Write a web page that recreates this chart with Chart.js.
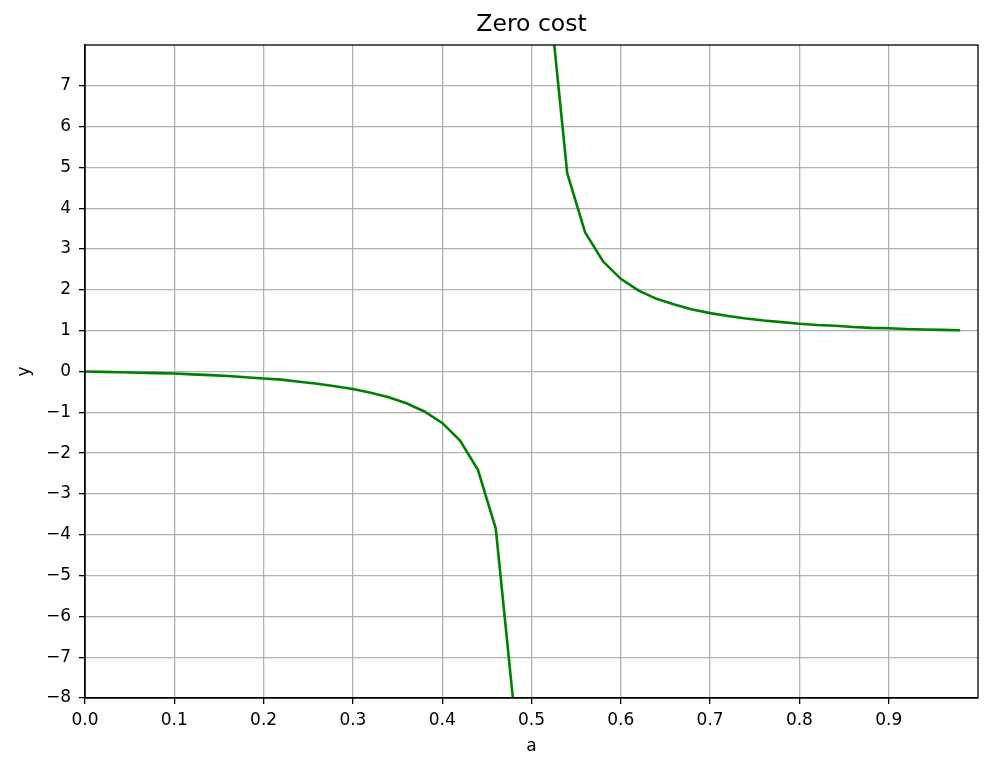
<!DOCTYPE html>
<html>
<head>
<meta charset="utf-8">
<script src="https://cdn.jsdelivr.net/npm/chart.js@4/dist/chart.umd.min.js"></script>
<style>
  html, body { margin: 0; padding: 0; background: #fff; }
  #wrap { width: 995px; height: 772px; }
</style>
</head>
<body>
<div id="wrap"><canvas id="chart"></canvas></div>
<script>
// values (a on x, y on y); 0.5 has no value (gap between branches)
const aValues = [
  0.00, 0.02, 0.04, 0.06, 0.08, 0.10, 0.12, 0.14, 0.16, 0.18,
  0.20, 0.22, 0.24, 0.26, 0.28, 0.30, 0.32, 0.34, 0.36, 0.38,
  0.40, 0.42, 0.44, 0.46, 0.48, 0.50, 0.52, 0.54, 0.56, 0.58,
  0.60, 0.62, 0.64, 0.66, 0.68, 0.70, 0.72, 0.74, 0.76, 0.78,
  0.80, 0.82, 0.84, 0.86, 0.88, 0.90, 0.92, 0.94, 0.96, 0.98
];
const yValues = [
  0.00, -0.01, -0.02, -0.03, -0.04, -0.05, -0.07, -0.09, -0.11, -0.14,
  -0.17, -0.20, -0.25, -0.30, -0.36, -0.43, -0.52, -0.63, -0.78, -0.98,
  -1.26, -1.69, -2.41, -3.85, -8.19, null, 9.19, 4.86, 3.41, 2.70,
  2.27, 1.98, 1.78, 1.64, 1.52, 1.43, 1.36, 1.30, 1.25, 1.21,
  1.17, 1.14, 1.12, 1.09, 1.07, 1.06, 1.04, 1.03, 1.02, 1.01
];
const xTickValues = [0, 0.1, 0.2, 0.3, 0.4, 0.5, 0.6, 0.7, 0.8, 0.9];
const yTickValues = [-8, -7, -6, -5, -4, -3, -2, -1, 0, 1, 2, 3, 4, 5, 6, 7];

const points = aValues.map((a, i) => ({ x: a, y: yValues[i] }));

const FONT = 'DejaVu Sans';
const GRID = '#b0b0b0';

// spines on all four sides, drawn over the line like matplotlib
const frame = {
  id: 'frame',
  afterDatasetsDraw(chart) {
    const { ctx, chartArea: c } = chart;
    ctx.save();
    ctx.strokeStyle = '#000';
    ctx.lineWidth = 1.3;
    ctx.strokeRect(c.left, c.top, c.right - c.left, c.bottom - c.top);
    ctx.restore();
  }
};

const minus = v => (v < 0 ? '\u2212' + Math.abs(v) : String(v));

new Chart(document.getElementById('chart'), {
  type: 'line',
  data: {
    datasets: [{
      data: points,
      borderColor: '#008000',
      borderWidth: 2.6,
      pointRadius: 0,
      tension: 0,
      spanGaps: false,
      clip: 0
    }]
  },
  options: {
    responsive: true,
    maintainAspectRatio: false,
    animation: false,
    devicePixelRatio: 1,
    layout: { padding: { left: 0, right: 17, top: 0, bottom: 0 } },
    plugins: {
      legend: { display: false },
      tooltip: { enabled: false },
      title: {
        display: true,
        fullSize: false, // centre over the plot area, not the canvas
        text: 'Zero cost',
        color: '#000',
        font: { family: FONT, size: 23.5, weight: 'normal', lineHeight: 1.2 },
        padding: { top: 11, bottom: 5.8 }
      }
    },
    scales: {
      x: {
        type: 'linear',
        min: 0,
        max: 1,
        afterBuildTicks: s => { s.ticks = xTickValues.map(v => ({ value: v })); },
        afterFit: s => { s.height = 74; },
        ticks: {
          color: '#000',
          font: { family: FONT, size: 17 },
          padding: 6,
          maxRotation: 0,
          autoSkip: false,
          callback: v => v.toFixed(1)
        },
        grid: { color: GRID, lineWidth: 1.3, tickColor: '#000', tickLength: 6 },
        border: { display: true, color: '#000', width: 1.3 },
        title: {
          display: true,
          text: 'a',
          color: '#000',
          font: { family: FONT, size: 17, lineHeight: 1.2 },
          padding: { top: 0, bottom: 15 }
        }
      },
      y: {
        type: 'linear',
        min: -8,
        max: 8,
        afterBuildTicks: s => { s.ticks = yTickValues.map(v => ({ value: v })); },
        afterFit: s => { s.width = 85; },
        ticks: {
          color: '#000',
          font: { family: FONT, size: 17 },
          padding: 8,
          autoSkip: false,
          callback: v => minus(v)
        },
        grid: { color: GRID, lineWidth: 1.3, tickColor: '#000', tickLength: 6 },
        border: { display: true, color: '#000', width: 1.3 },
        title: {
          display: true,
          text: 'y',
          color: '#000',
          font: { family: FONT, size: 17, lineHeight: 1.2 },
          padding: { top: 14, bottom: 0 }
        }
      }
    }
  },
  plugins: [frame]
});
</script>
</body>
</html>
